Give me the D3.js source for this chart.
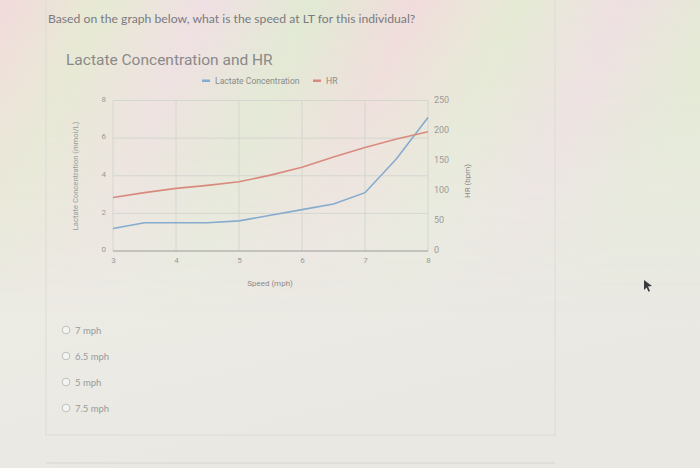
<!DOCTYPE html>
<html><head><meta charset="utf-8">
<script src="https://cdn.jsdelivr.net/npm/d3@7"></script>
<style>
html,body{margin:0;padding:0;}
body{width:700px;height:468px;overflow:hidden;}
</style></head>
<body><svg id="c" width="700" height="468"></svg>
<script>
const speeds = [3, 3.5, 4, 4.5, 5, 5.5, 6, 6.5, 7, 7.5, 8];
const lactate = [1.2, 1.5, 1.5, 1.5, 1.6, 1.9, 2.2, 2.5, 3.1, 4.9, 7.1];
const hr = [89, 97, 104, 109, 115, 126, 139, 156, 172, 186, 198];
const xTicks = [3, 4, 5, 6, 7, 8];
const leftTicks = [0, 2, 4, 6, 8];
const rightTicks = [0, 50, 100, 150, 200, 250];
const options = ["7 mph", "6.5 mph", "5 mph", "7.5 mph"];
const question = "Based on the graph below, what is the speed at LT for this individual?";
const chartTitle = "Lactate Concentration and HR";
const seriesNames = ["Lactate Concentration", "HR"];

const svg = d3.select("#c");
const defs = svg.append("defs");
const g1 = defs.append("linearGradient").attr("id","bg").attr("x1",0).attr("y1",0).attr("x2",0.35).attr("y2",1);
g1.append("stop").attr("offset","0%").attr("stop-color","#f1e4dc");
g1.append("stop").attr("offset","30%").attr("stop-color","#ece8dc");
g1.append("stop").attr("offset","60%").attr("stop-color","#ecebe4");
g1.append("stop").attr("offset","100%").attr("stop-color","#e9e8e3");
svg.append("rect").attr("width",700).attr("height",468).attr("fill","url(#bg)");
// faint colored bands hint (moire) in upper area
const bands = defs.append("linearGradient").attr("id","bands").attr("x1",0).attr("y1",0).attr("x2",1).attr("y2",0.2);
const bandCols = ["#f3d6dc","#e3ecd0","#f0dde6","#dcebd0","#f2d8dc","#e2ecd2","#efdce4","#dfebcf"];
bandCols.forEach((c,i)=>bands.append("stop").attr("offset",(i/(bandCols.length-1)*100)+"%").attr("stop-color",c));
const fade = defs.append("linearGradient").attr("id","fade").attr("x1",0).attr("y1",0).attr("x2",0).attr("y2",1);
fade.append("stop").attr("offset","0%").attr("stop-color","#fff").attr("stop-opacity",0.75);
fade.append("stop").attr("offset","100%").attr("stop-color","#fff").attr("stop-opacity",0);
const mask = defs.append("mask").attr("id","m");
mask.append("rect").attr("width",700).attr("height",320).attr("fill","url(#fade)");
svg.append("rect").attr("width",700).attr("height",320).attr("fill","url(#bands)").attr("mask","url(#m)");

// card border
svg.append("rect").attr("x",46).attr("y",-2).attr("width",509).attr("height",437)
  .attr("fill","none").attr("stroke","#dcdcd6").attr("stroke-width",1);
svg.append("line").attr("x1",46).attr("x2",555).attr("y1",463).attr("y2",463).attr("stroke","#d6d6d0");

svg.append("text").attr("x",48).attr("y",23).text(question)
  .attr("font-family","Lato, 'Open Sans', sans-serif").attr("font-size",12.2).attr("fill","#7a7a80");
svg.append("text").attr("x",66).attr("y",65).text(chartTitle)
  .attr("font-family","Roboto, Arial, sans-serif").attr("font-size",15.5).attr("fill","#8a8a8a");

const x = d3.scaleLinear().domain([3,8]).range([113,428]);
const yL = d3.scaleLinear().domain([0,8]).range([251,100.5]);
const yR = d3.scaleLinear().domain([0,250]).range([251,100.5]);
const font = "Roboto, Arial, sans-serif";
const axisCol = "#9a9a9a";

// gridlines
const grid = svg.append("g");
grid.selectAll("line.h").data(leftTicks.slice(1)).join("line")
  .attr("x1",x(3)).attr("x2",x(8)).attr("y1",d=>yL(d)).attr("y2",d=>yL(d))
  .attr("stroke","#d4d6d0").attr("stroke-width",1);
grid.selectAll("line.v").data(xTicks).join("line")
  .attr("x1",d=>x(d)).attr("x2",d=>x(d)).attr("y1",yL(8)).attr("y2",yL(0))
  .attr("stroke","#d4d6d0").attr("stroke-width",1);
svg.append("line").attr("x1",x(3)).attr("x2",x(8)).attr("y1",yL(0)).attr("y2",yL(0))
  .attr("stroke","#9a9c9a").attr("stroke-width",1.2);

// axes via d3 axis, then style
const ax = svg.append("g").attr("transform",`translate(0,${yL(0)})`)
  .call(d3.axisBottom(x).tickValues(xTicks).tickSize(0).tickPadding(6).tickFormat(d3.format("d")));
const al = svg.append("g").attr("transform",`translate(${x(3)},0)`)
  .call(d3.axisLeft(yL).tickValues(leftTicks).tickSize(0).tickPadding(7).tickFormat(d3.format("d")));
const ar = svg.append("g").attr("transform",`translate(${x(8)},0)`)
  .call(d3.axisRight(yR).tickValues(rightTicks).tickSize(0).tickPadding(6).tickFormat(d3.format("d")));
[ax,al,ar].forEach(a=>{
  a.select(".domain").remove();
  a.selectAll("text").attr("font-family",font).attr("fill",axisCol);
});
ax.selectAll("text").attr("font-size",8);
al.selectAll("text").attr("font-size",8).attr("dy","0.1em");
ar.selectAll("text").attr("font-size",9).attr("dy","0.2em");

svg.append("text").attr("x",270).attr("y",286).attr("text-anchor","middle").text("Speed (mph)")
  .attr("font-family",font).attr("font-size",8).attr("fill","#8a8a8a");
svg.append("text").attr("transform","translate(78,176) rotate(-90)").attr("text-anchor","middle")
  .text("Lactate Concentration (mmol/L)").attr("font-family",font).attr("font-size",7.6).attr("fill","#9a9a9a");
svg.append("text").attr("transform","translate(470,181) rotate(-90)").attr("text-anchor","middle")
  .text("HR (bpm)").attr("font-family",font).attr("font-size",8).attr("fill","#8a8a8a");

// lines
const blue = "#85abcf", red = "#d98a7e";
const lineL = d3.line().x((d,i)=>x(speeds[i])).y(d=>yL(d));
const lineR = d3.line().x((d,i)=>x(speeds[i])).y(d=>yR(d));
svg.append("path").attr("d",lineL(lactate)).attr("fill","none").attr("stroke",blue).attr("stroke-width",1.6);
svg.append("path").attr("d",lineR(hr)).attr("fill","none").attr("stroke",red).attr("stroke-width",1.6);

// legend
const leg = svg.append("g").attr("font-family",font).attr("font-size",8.6).attr("fill","#8a8a8a");
leg.append("rect").attr("x",202).attr("y",79.5).attr("width",8).attr("height",2.5).attr("fill",blue);
leg.append("text").attr("x",215).attr("y",84).text(seriesNames[0]);
leg.append("rect").attr("x",313).attr("y",79.5).attr("width",8).attr("height",2.5).attr("fill",red);
leg.append("text").attr("x",326).attr("y",84).text(seriesNames[1]);

// options
const og = svg.append("g");
options.forEach((o,i)=>{
  const yy = 330 + i*26;
  og.append("circle").attr("cx",66).attr("cy",yy).attr("r",3.8).attr("fill","#f4f4f2").attr("stroke","#b8bcb8").attr("stroke-width",0.9);
  og.append("text").attr("x",75).attr("y",yy+3.5).text(o)
    .attr("font-family","Lato, 'Open Sans', sans-serif").attr("font-size",9.5).attr("fill","#9a9a9e");
});

// cursor
svg.append("path").attr("d","M644,280 L652,286 L648,286.5 L650,291 L648.5,291.7 L646.6,287.4 L644,290 Z")
  .attr("fill","#3a3a40");
</script></body></html>
